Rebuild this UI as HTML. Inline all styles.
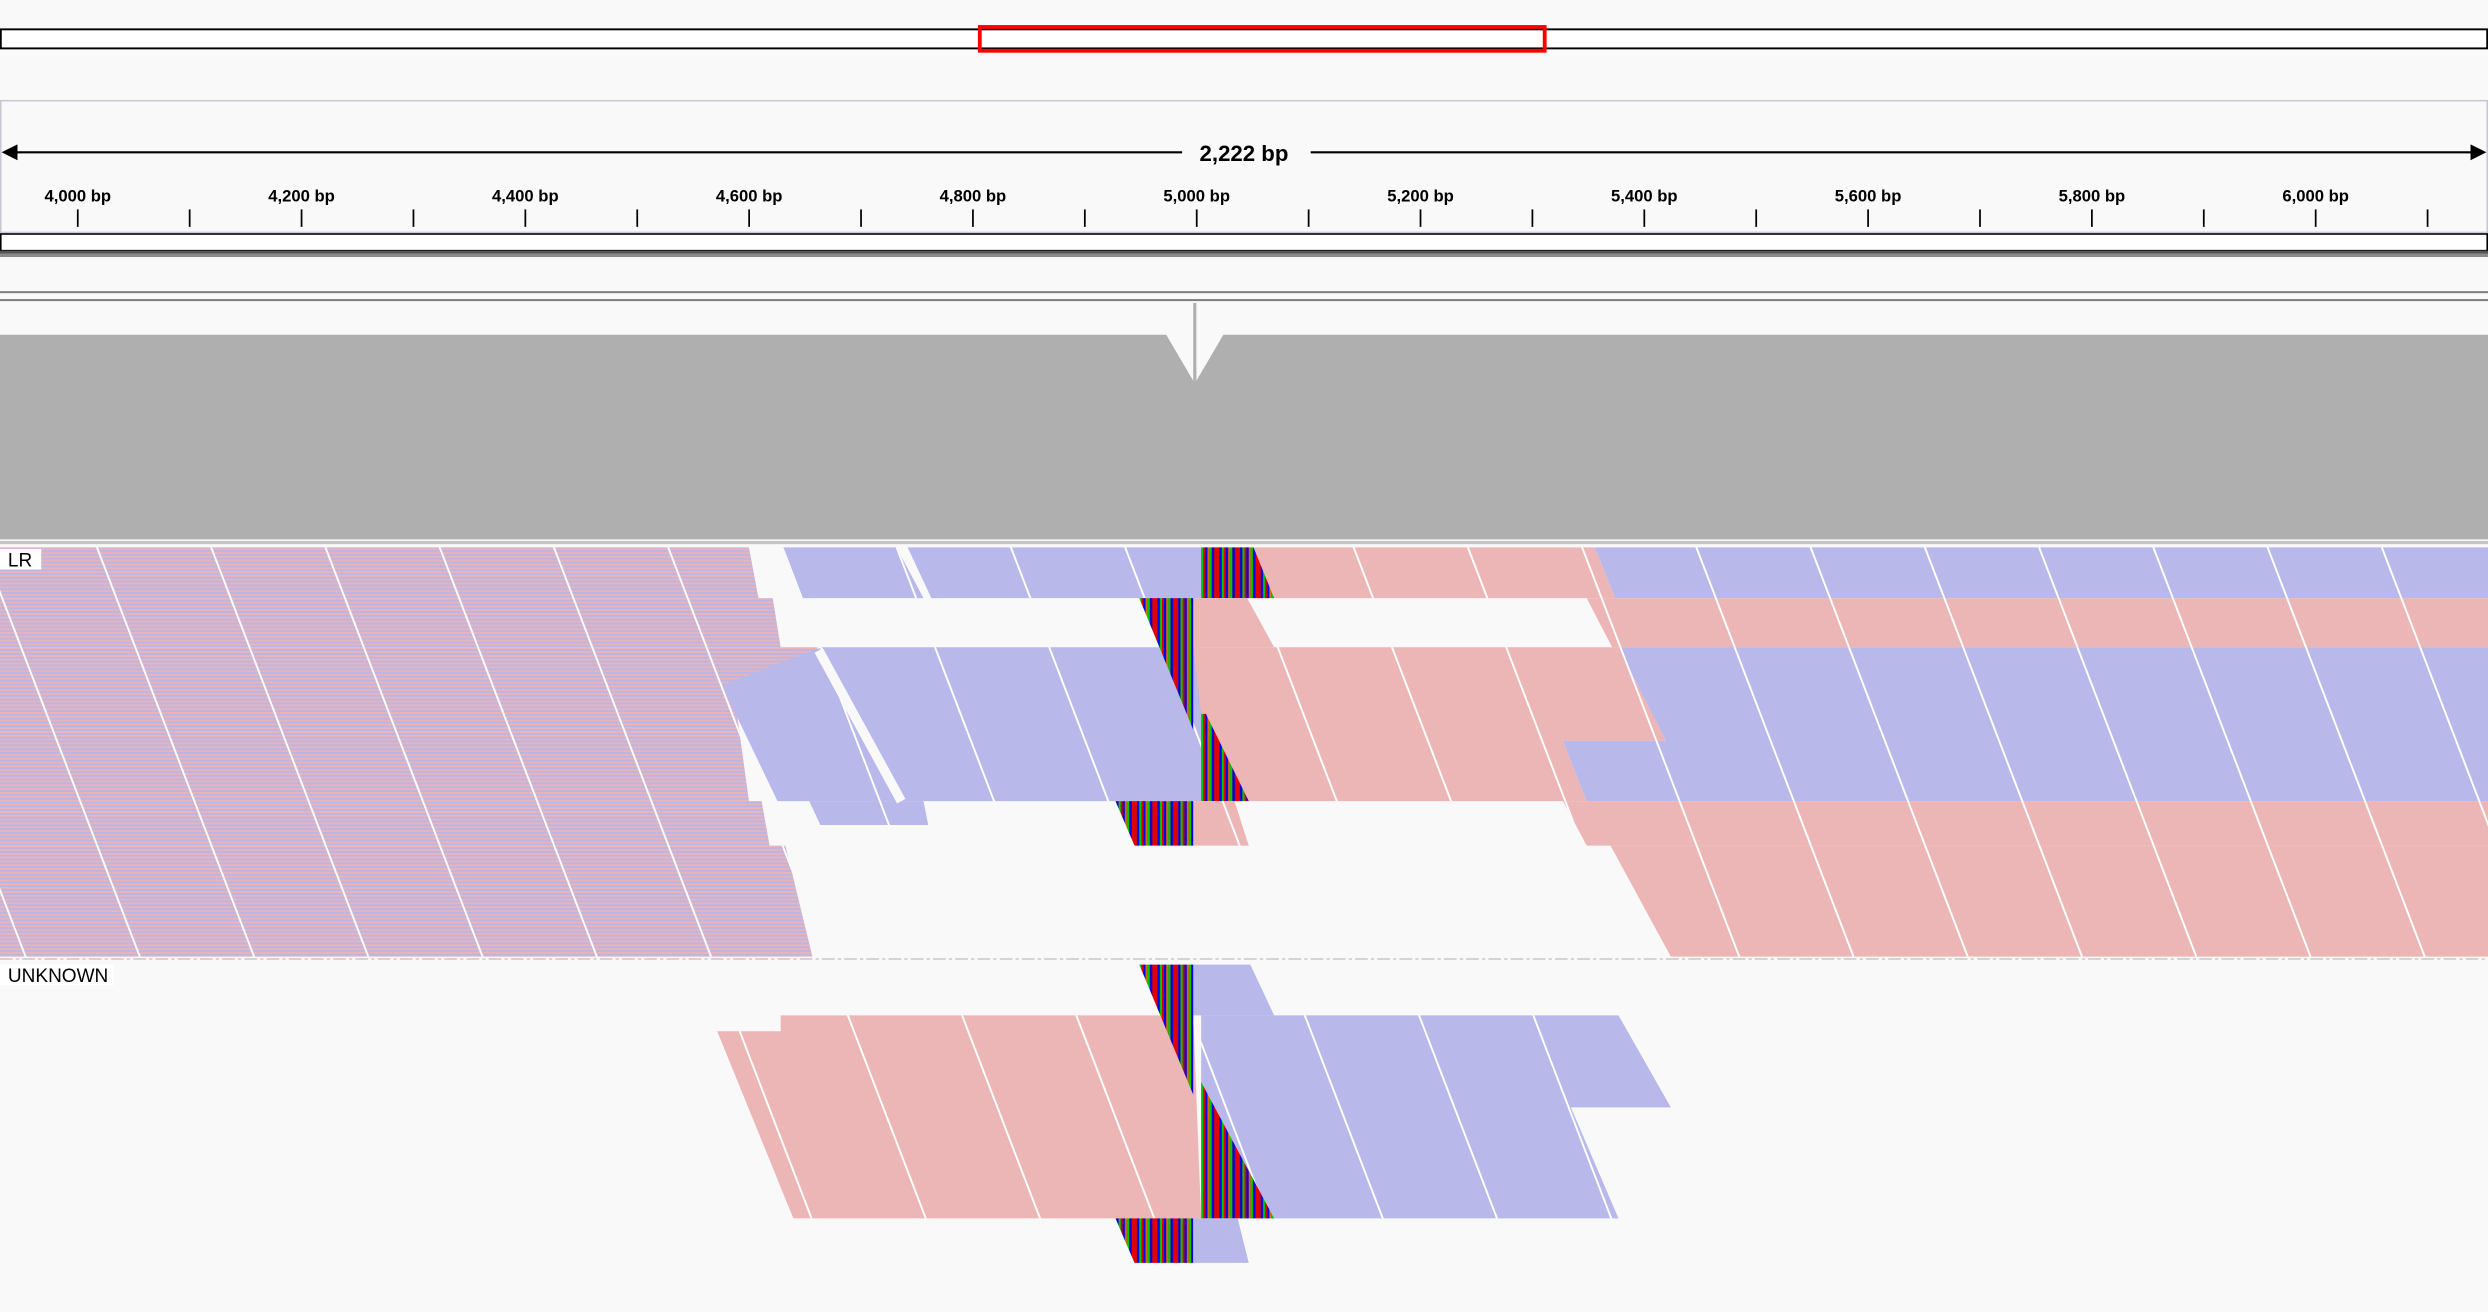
<!DOCTYPE html>
<html><head><meta charset="utf-8"><style>
html,body{margin:0;padding:0;background:#f9f9f9;}
svg{display:block;}
text{font-family:"Liberation Sans",sans-serif;}
</style></head><body>
<svg id="v" width="2488" height="1312" viewBox="0 0 1568 827" preserveAspectRatio="none" xmlns="http://www.w3.org/2000/svg">
<defs>
<pattern id="slant" width="72" height="200" patternUnits="userSpaceOnUse" patternTransform="skewX(21)"><rect x="0" y="0" width="1.3" height="200" fill="#fff"/></pattern>
<pattern id="stripe" width="4" height="2.4" patternUnits="userSpaceOnUse"><rect width="4" height="1.2" fill="#eab3b8"/><rect y="1.2" width="4" height="1.2" fill="#b9b6e6"/></pattern>
<pattern id="mm" width="13" height="10" patternUnits="userSpaceOnUse"><rect width="13" height="10" fill="#e00000"/><rect x="1.5" width="1.5" height="10" fill="#0000ee"/><rect x="3" width="1.3" height="10" fill="#00c800"/><rect x="5.5" width="1.5" height="10" fill="#0000ee"/><rect x="7" width="1.2" height="10" fill="#d17105"/><rect x="8.2" width="1.5" height="10" fill="#00c800"/><rect x="9.7" width="1.5" height="10" fill="#0000ee"/></pattern>
</defs>
<g id="topg"></g>
<g id="reads"></g>
</svg>
<script>
const tickLabels=["4,000 bp","4,200 bp","4,400 bp","4,600 bp","4,800 bp","5,000 bp","5,200 bp","5,400 bp","5,600 bp","5,800 bp","6,000 bp"];
const tickValues=[4000,4200,4400,4600,4800,5000,5200,5400,5600,5800,6000];
const minorTicks=[4000,4100,4200,4300,4400,4500,4600,4700,4800,4900,5000,5100,5200,5300,5400,5500,5600,5700,5800,5900,6000,6100];
const spanLabel=["2,222 bp"];
const viewStart=[3930.5];
const viewEnd=[6154];
const NS="http://www.w3.org/2000/svg";
function xs(bp){return (bp-viewStart[0])/(viewEnd[0]-viewStart[0])*1568;}
function mk(tag,attrs,parent){const el=document.createElementNS(NS,tag);for(const k in attrs)el.setAttribute(k,attrs[k]);parent.appendChild(el);return el;}
const topG=document.getElementById('topg');
let e=mk('rect',{x:0.5,y:18.5,width:1567,height:12,fill:'#fff',stroke:'#000','stroke-width':1.2},topG);


e=mk('rect',{x:617.5,y:17,width:356,height:15,fill:'none',stroke:'#f00','stroke-width':2.4},topG);


e=mk('rect',{x:0.5,y:63.5,width:1567,height:83,fill:'#f9f9f9',stroke:'#c9c9d6','stroke-width':1},topG);


e=mk('line',{x1:4,y1:96,x2:745,y2:96,stroke:'#000','stroke-width':1.3},topG);


e=mk('line',{x1:826,y1:96,x2:1564,y2:96,stroke:'#000','stroke-width':1.3},topG);


e=mk('polygon',{points:'1,96 11,91 11,101',fill:'#000'},topG);


e=mk('polygon',{points:'1567,96 1557,91 1557,101',fill:'#000'},topG);


e=mk('text',{x:784,y:101.5,'text-anchor':'middle','font-size':14,'font-weight':'bold',fill:'#000'},topG);
e.textContent=spanLabel[0];


minorTicks.forEach(v=>{const t=mk('line',{x1:xs(v),y1:132,x2:xs(v),y2:143,stroke:'#000','stroke-width':1.1},topG);

});
tickValues.forEach((v,i)=>{const t=mk('text',{x:xs(v),y:127,'text-anchor':'middle','font-size':10.5,'font-weight':'bold',fill:'#000'},topG);t.textContent=tickLabels[i];

});
e=mk('rect',{x:0.5,y:147.5,width:1567,height:10.5,fill:'#fff',stroke:'#000','stroke-width':1},topG);


e=mk('rect',{x:0,y:158,width:1568,height:2,fill:'#555'},topG);


e=mk('rect',{x:0,y:160,width:1568,height:2,fill:'#8a8a8a'},topG);


e=mk('rect',{x:0,y:183.5,width:1568,height:1.3,fill:'#808080'},topG);


e=mk('rect',{x:0,y:188.5,width:1568,height:1.3,fill:'#808080'},topG);


e=mk('polygon',{points:'0,211 735,211 752,240 754,240 771,211 1568,211 1568,340 0,340',fill:'#afafaf'},topG);


e=mk('rect',{x:752,y:191,width:2,height:49,fill:'#afafaf'},topG);


e=mk('rect',{x:0,y:341,width:1568,height:2,fill:'#c4c4c4'},topG);



const R=document.getElementById('reads');
const S='url(#stripe)',P='#ecb6b6',B='#b8b8ea',M='url(#mm)';
const blocks=[
[S,'0,345 472,345 478,377 0,377','lr-stripe-1'],
[B,'493,345 565,345 582,377 505,377','lr-blue-1a'],
[B,'572,345 757,345 757,377 587,377','lr-blue-1b'],
[P,'790,345 1005,345 1018,377 803,377','lr-pink-1'],
[B,'1005,345 1568,345 1568,377 1018,377','lr-blue-1c'],
[M,'757,345 790,345 803,377 757,377','lr-mismatch-1'],
[S,'0,377 487,377 492,408 0,408','lr-stripe-2'],
[P,'752,377 786,377 803,408 752,408','lr-pink-2a'],
[P,'1000,377 1568,377 1568,408 1016,408','lr-pink-2b'],
[S,'0,408 515,408 520,432 462,432 472,505 0,505','lr-stripe-3'],
[B,'455,432 518,408 757,408 757,505 490,505','lr-blue-3'],
[P,'752,408 1020,408 1050,467 985,467 1000,505 787,505 757,450','lr-pink-3'],
[B,'1020,408 1568,408 1568,505 1000,505 985,467 1050,467','lr-blue-3b'],
[M,'718,377 752,377 752,460','lr-mismatch-2'],
[M,'757,450 760,450 787,505 757,505','lr-mismatch-3'],
[S,'0,505 480,505 485,533 0,533','lr-stripe-4'],
[B,'510,505 582,505 585,520 517,520','lr-blue-4'],
[P,'752,505 778,505 787,533 752,533','lr-pink-4a'],
[P,'985,505 1568,505 1568,533 1000,533','lr-pink-4b'],
[M,'703,505 752,505 752,533 715,533','lr-mismatch-4'],
[S,'0,533 495,533 512,603 0,603','lr-stripe-5'],
[P,'1015,533 1568,533 1568,603 1053,603','lr-pink-5'],
[B,'752,608 788,608 803,640 752,640','unk-blue-1'],
[B,'757,640 1020,640 1053,698 990,698 1020,768 803,768 757,682','unk-blue-2'],
[P,'492,640 752,640 757,768 500,768 452,650 492,650','unk-pink-1'],
[M,'718,608 752,608 752,690','unk-mismatch-1'],
[M,'757,682 803,768 757,768','unk-mismatch-2'],
[M,'703,768 752,768 752,796 715,796','unk-mismatch-3'],
[B,'752,768 780,768 787,796 752,796','unk-blue-3']
];
blocks.forEach(b=>{
  const g=mk('g',{},R);
  
  
  mk('polygon',{points:b[1],fill:b[0]},g);
  if(b[0]!==M) mk('polygon',{points:b[1],fill:'url(#slant)'},g);
});
e=mk('line',{x1:516,y1:410,x2:568,y2:505,stroke:'#f9f9f9','stroke-width':6},R);


e=mk('line',{x1:0,y1:604.5,x2:1568,y2:604.5,stroke:'#c8c8c8','stroke-width':1,'stroke-dasharray':'8,2,2,2'},R);


[['LR',346,26,'lr-group-label'],['UNKNOWN',608,72,'unknown-group-label']].forEach(l=>{
  const r=mk('rect',{x:0,y:l[1],width:l[2],height:13,fill:'#fff'},R);
  
  
  const t=mk('text',{x:5,y:l[1]+11,'font-size':12,fill:'#000'},R);t.textContent=l[0];
  
  
});
</script>
</body></html>
